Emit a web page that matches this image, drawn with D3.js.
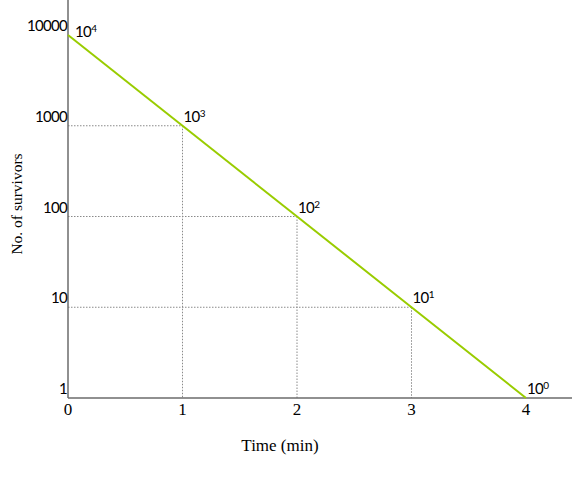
<!DOCTYPE html>
<html>
<head>
<meta charset="utf-8">
<script src="https://cdn.jsdelivr.net/npm/d3@7"></script>
<style>
  body { margin: 0; background: #fff; }
  svg { display: block; }
</style>
</head>
<body>
<div id="chart"></div>
<script>
// DATA
const times = [0, 1, 2, 3, 4];
const survivors = [10000, 1000, 100, 10, 1];
const exponents = ['4', '3', '2', '1', '0'];
const xTicks = [0, 1, 2, 3, 4];
const yTicks = [1, 10, 100, 1000, 10000];

// DIMENSIONS
const width = 572;
const height = 501;
const padL = 68, padR = 526, padT = 35, padB = 398;

const svg = d3.select('#chart').append('svg')
  .attr('width', width)
  .attr('height', height);

// SCALES
const x = d3.scaleLinear().domain([0, 4]).range([padL, padR]);
const y = d3.scaleLog().domain([1, 10000]).range([padB, padT]);

const pts = times.map((t, i) => ({ t: t, v: survivors[i], e: exponents[i] }));

const sans = 'Lato, "Open Sans", sans-serif';
const serif = '"Liberation Serif", "DejaVu Serif", serif';

// dotted guides for the inner points
const guides = pts.filter(d => d.t > 0 && d.t < 4);
svg.selectAll('line.hguide').data(guides).enter().append('line')
  .attr('class', 'hguide')
  .attr('x1', padL).attr('x2', d => x(d.t))
  .attr('y1', d => y(d.v)).attr('y2', d => y(d.v))
  .style('stroke', '#8a8a8a').style('stroke-width', 1)
  .style('stroke-dasharray', '1.5,1.5');
svg.selectAll('line.vguide').data(guides).enter().append('line')
  .attr('class', 'vguide')
  .attr('x1', d => x(d.t)).attr('x2', d => x(d.t))
  .attr('y1', d => y(d.v)).attr('y2', padB)
  .style('stroke', '#8a8a8a').style('stroke-width', 1)
  .style('stroke-dasharray', '1.5,1.5');

// AXES (plain lines)
svg.append('line')
  .attr('x1', padL).attr('x2', width)
  .attr('y1', padB).attr('y2', padB)
  .style('stroke', '#6b6b6b').style('stroke-width', 1.5);
svg.append('line')
  .attr('x1', padL).attr('x2', padL)
  .attr('y1', 0).attr('y2', padB)
  .style('stroke', '#6b6b6b').style('stroke-width', 1.5);

// tick labels
svg.selectAll('text.xtick').data(xTicks).enter().append('text')
  .attr('class', 'xtick')
  .attr('x', d => x(d))
  .attr('y', 415)
  .attr('text-anchor', 'middle')
  .style('font-family', serif)
  .style('font-size', '17px')
  .text(d => d);

svg.selectAll('text.ytick').data(yTicks).enter().append('text')
  .attr('class', 'ytick')
  .attr('x', padL - 1)
  .attr('y', d => y(d) - 4)
  .attr('text-anchor', 'end')
  .style('font-family', sans)
  .style('font-size', '15px')
  .style('letter-spacing', '-0.7px')
  .text(d => d);

// axis titles
svg.append('text')
  .attr('x', 280).attr('y', 451)
  .attr('text-anchor', 'middle')
  .style('font-family', serif)
  .style('font-size', '17px')
  .text('Time (min)');

svg.append('text')
  .attr('transform', 'translate(22,204) rotate(-90)')
  .attr('text-anchor', 'middle')
  .style('font-family', serif)
  .style('font-size', '15.5px')
  .text('No. of survivors');

// LINE
const line = d3.line().x(d => x(d.t)).y(d => y(d.v));
svg.append('path')
  .datum(pts)
  .attr('d', line)
  .style('fill', 'none')
  .style('stroke', '#99cc00')
  .style('stroke-width', 2);

// point labels 10^n
const lbl = svg.selectAll('text.plabel').data(pts).enter().append('text')
  .attr('class', 'plabel')
  .attr('x', d => d.t === 0 ? x(d.t) + 7 : x(d.t) + 1)
  .attr('y', d => d.t === 0 ? y(d.v) + 2 : y(d.v) - 4)
  .style('font-family', sans)
  .style('font-size', '15px')
  .style('letter-spacing', '-0.6px');
lbl.append('tspan').text('10');
lbl.append('tspan')
  .attr('dy', -5)
  .style('font-size', '10px')
  .text(d => d.e);
</script>
</body>
</html>
